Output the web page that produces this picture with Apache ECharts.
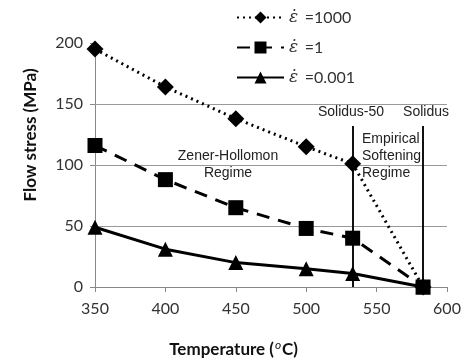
<!DOCTYPE html>
<html><head><meta charset="utf-8">
<script src="https://cdn.jsdelivr.net/npm/echarts@6/dist/echarts.min.js"></script>
<style>html,body{margin:0;padding:0;background:#fff}#c{width:474px;height:360px}</style>
</head><body><div id="c"></div>
<script>
var temps = [350, 400, 450, 500, 533, 583];
var s1000 = [195, 164, 138, 115, 101, 0];
var s1 = [116, 88, 65, 48, 40, 0];
var s0001 = [49, 31, 20, 15, 11, 0];
var seriesNames = ['1000', '1', '0.001'];
var xTicks = [350, 400, 450, 500, 550, 600];
var yTicks = [0, 50, 100, 150, 200];
var gridLevels = [50, 100, 150];
var solidus50 = 533, solidus = 583, regimeTop = 132;

function pts(arr){ return temps.map(function(t,i){ return [t, arr[i]]; }); }

var chart = echarts.init(document.getElementById('c'));
var labelFont = 'Lato, "Open Sans", sans-serif';
var annFont = '"Liberation Sans", Arial, sans-serif';
chart.setOption({
  animation: false,
  grid: {left: 95, right: 27, top: 43, bottom: 73},
  xAxis: {type: 'value', min: xTicks[0], max: xTicks[xTicks.length-1], interval: 50,
    axisLine: {lineStyle: {color: '#888', width: 1}},
    axisTick: {show: true, length: 5, lineStyle: {color: '#888'}},
    axisLabel: {color: '#333', fontSize: 16, fontFamily: labelFont, margin: 14},
    splitLine: {show: false}},
  yAxis: {type: 'value', min: yTicks[0], max: yTicks[yTicks.length-1], interval: 50,
    axisLine: {show: true, lineStyle: {color: '#888', width: 1}},
    axisTick: {show: true, length: 5, lineStyle: {color: '#888'}},
    axisLabel: {color: '#333', fontSize: 16, fontFamily: labelFont, margin: 12},
    splitLine: {show: false}},
  legend: {orient: 'vertical', left: 231, top: 4, itemWidth: 47, itemHeight: 15, itemGap: 13,
    data: seriesNames.map(function(n){return 'ε̇ =' + n;}),
    formatter: function(n){ return '{e|ε̇}  {v|=' + n.split('=')[1] + '}'; },
    textStyle: {rich: {
      e: {fontFamily: '"DejaVu Serif", serif', fontStyle: 'italic', fontSize: 17, color: '#333'},
      v: {fontFamily: labelFont, fontSize: 16, color: '#333'}
    }}},
  graphic: [
    {type: 'text', x: 31, y: 135, rotation: Math.PI/2, style: {text: 'Flow stress (MPa)', font: 'bold 17px ' + labelFont, fill: '#111', textAlign: 'center', textVerticalAlign: 'middle'}},
    {type: 'text', x: 274, y: 350, style: {text: 'Temperature (', font: 'bold 17px ' + labelFont, fill: '#111', textAlign: 'right', textVerticalAlign: 'middle'}},
    {type: 'text', x: 275, y: 345, style: {text: 'o', font: 'italic 12px ' + labelFont, fill: '#111', textAlign: 'left', textVerticalAlign: 'middle'}},
    {type: 'text', x: 282, y: 350, style: {text: 'C)', font: 'bold 17px ' + labelFont, fill: '#111', textAlign: 'left', textVerticalAlign: 'middle'}},
    {type: 'text', x: 228, y: 156, style: {text: 'Zener-Hollomon', font: '14px ' + annFont, fill: '#222', textAlign: 'center', textVerticalAlign: 'middle'}},
    {type: 'text', x: 228, y: 173, style: {text: 'Regime', font: '14px ' + annFont, fill: '#222', textAlign: 'center', textVerticalAlign: 'middle'}},
    {type: 'text', x: 351, y: 112, style: {text: 'Solidus-50', font: '14px ' + annFont, fill: '#222', textAlign: 'center', textVerticalAlign: 'middle'}},
    {type: 'text', x: 426, y: 112, style: {text: 'Solidus', font: '14px ' + annFont, fill: '#222', textAlign: 'center', textVerticalAlign: 'middle'}},
    {type: 'text', x: 362, y: 139, style: {text: 'Empirical', font: '14px ' + annFont, fill: '#222', textAlign: 'left', textVerticalAlign: 'middle'}},
    {type: 'text', x: 362, y: 156, style: {text: 'Softening', font: '14px ' + annFont, fill: '#222', textAlign: 'left', textVerticalAlign: 'middle'}},
    {type: 'text', x: 362, y: 173, style: {text: 'Regime', font: '14px ' + annFont, fill: '#222', textAlign: 'left', textVerticalAlign: 'middle'}}
  ],
  series: [
    {name: 'ε̇ =' + seriesNames[0], type: 'line', data: pts(s1000), symbol: 'diamond', symbolSize: 17,
      lineStyle: {color: '#000', width: 3, type: [2, 4]}, itemStyle: {color: '#000'}, z: 5,
      markLine: {silent: true, symbol: 'none', label: {show: false}, lineStyle: {color: '#999', width: 1, type: 'solid'},
        data: gridLevels.map(function(v){ return {yAxis: v}; })}},
    {name: 'ε̇ =' + seriesNames[1], type: 'line', data: pts(s1), symbol: 'rect', symbolSize: 15,
      lineStyle: {color: '#000', width: 3, type: [13, 9]}, itemStyle: {color: '#000'}, z: 5,
      markLine: {silent: true, symbol: 'none', label: {show: false}, lineStyle: {color: '#111', width: 2, type: 'solid'},
        data: [[{coord: [solidus50, regimeTop]}, {coord: [solidus50, 0]}], [{coord: [solidus, regimeTop]}, {coord: [solidus, 0]}]]}},
    {name: 'ε̇ =' + seriesNames[2], type: 'line', data: pts(s0001), symbol: 'triangle', symbolSize: 15,
      lineStyle: {color: '#000', width: 3, type: 'solid'}, itemStyle: {color: '#000'}, z: 5}
  ]
});
</script></body></html>
